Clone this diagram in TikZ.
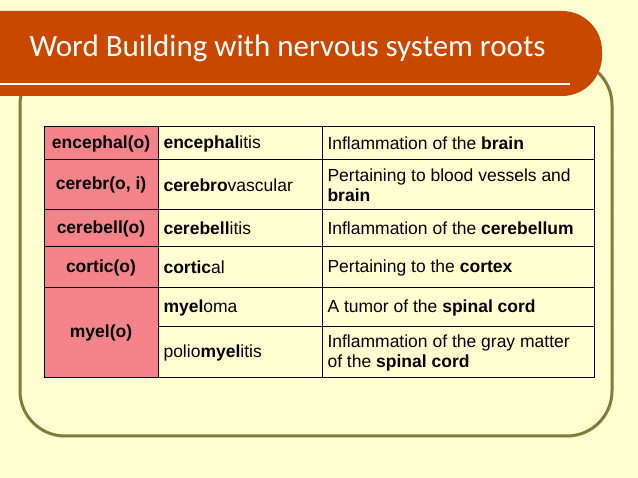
\documentclass[tikz,border=0pt]{standalone}
\usepackage{fontspec}
\setmainfont{Liberation Sans}
\newfontfamily\ttl{Carlito}
\begin{document}
\begin{tikzpicture}[x=1pt,y=-1pt,
  tx/.style={font=\fontsize{17.5}{20}\selectfont},
  txb/.style={font=\fontsize{17.5}{20}\selectfont\bfseries}]
\definecolor{bg}{HTML}{FFFFD2}
\definecolor{olive}{HTML}{7C7C3C}
\definecolor{ban}{HTML}{C84800}
\definecolor{pinkc}{HTML}{F4848A}
\definecolor{cellc}{HTML}{FFFFD2}
\useasboundingbox (0,0) rectangle (638,478);
\fill[bg] (0,0) rectangle (638,478);
\draw[olive,line width=3pt,rounded corners=45pt] (20,60) rectangle (612,436);
\fill[ban,rounded corners=40pt] (-40,11) rectangle (602,96);
\draw[white,line width=2pt] (0,84) -- (570,84);
\node[anchor=west,text=white,font=\ttl\fontsize{31}{34}\selectfont] (title) at (26,48) {Word Building with nervous system roots};
\def\xa{44}\def\xb{158}\def\xc{322}\def\xd{594}
\foreach \ya/\yb/\r/\w/\d [count=\i] in {
 127/160/{encephal(o)}/{\textbf{encephal}itis}/{Inflammation of the \textbf{brain}},
 160/210/{cerebr(o, i)}/{\textbf{cerebro}vascular}/{Pertaining to blood vessels and\\\textbf{brain}},
 210/247/{cerebell(o)}/{\textbf{cerebell}itis}/{Inflammation of the \textbf{cerebellum}},
 247/288/{cortic(o)}/{\textbf{cortic}al}/{Pertaining to the \textbf{cortex}}}{
  \path[draw,line width=1pt,fill=pinkc] (\xa,\ya) rectangle (\xb,\yb);
  \path[draw,line width=1pt,fill=cellc] (\xb,\ya) rectangle (\xc,\yb);
  \path[draw,line width=1pt,fill=cellc] (\xc,\ya) rectangle (\xd,\yb);
  \node[txb] (r\i) at ({(\xa+\xb)/2},{(\ya+\yb)/2}) {\r};
  \node[anchor=west,tx] (w\i) at (\xb+2,{(\ya+\yb)/2}) {\w};
  \node[anchor=west,align=left,tx] (d\i) at (\xc+2,{(\ya+\yb)/2}) {\d};
}
\path[draw,line width=1pt,fill=pinkc] (\xa,288) rectangle (\xb,378);
\path[draw,line width=1pt,fill=cellc] (\xb,288) rectangle (\xc,327);
\path[draw,line width=1pt,fill=cellc] (\xc,288) rectangle (\xd,327);
\path[draw,line width=1pt,fill=cellc] (\xb,327) rectangle (\xc,378);
\path[draw,line width=1pt,fill=cellc] (\xc,327) rectangle (\xd,378);
\node[txb] (r5) at (101,333) {myel(o)};
\node[anchor=west,tx] (w5) at (\xb+2,308) {\textbf{myel}oma};
\node[anchor=west,tx] (d5) at (\xc+2,308) {A tumor of the \textbf{spinal cord}};
\node[anchor=west,tx] (w6) at (\xb+2,353) {polio\textbf{myel}itis};
\node[anchor=west,align=left,tx] (d6) at (\xc+2,353) {Inflammation of the gray matter\\of the \textbf{spinal cord}};
\end{tikzpicture}
\end{document}
